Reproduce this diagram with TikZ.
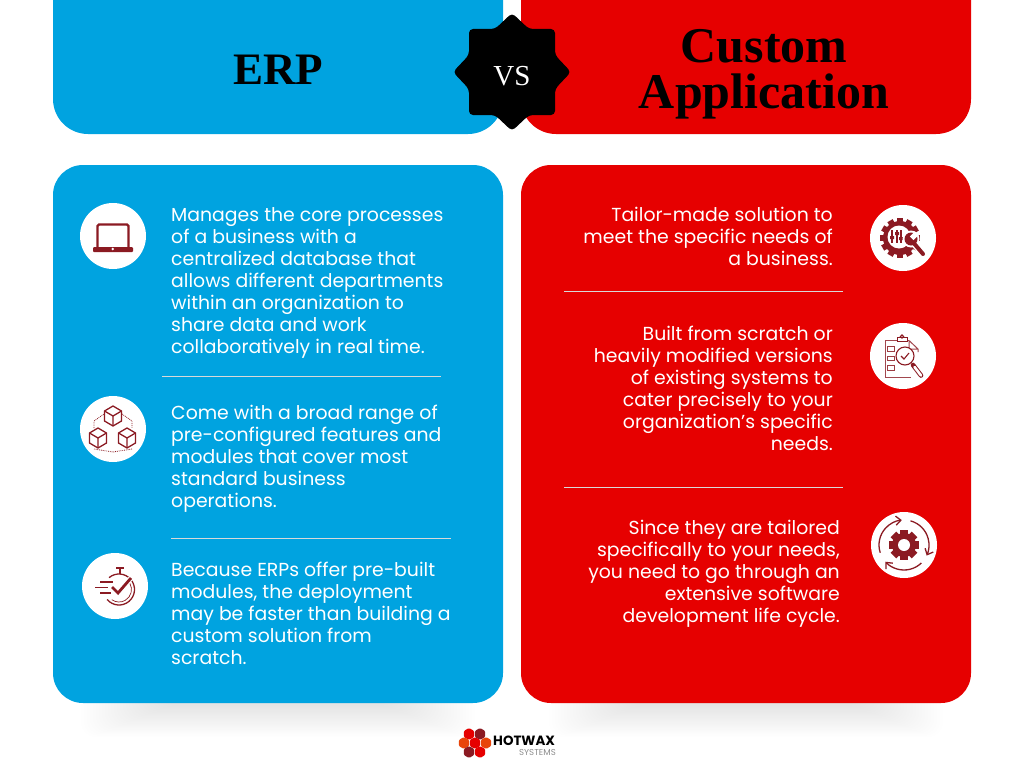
\documentclass[tikz,border=0pt]{standalone}
\usepackage{fontspec}
\usetikzlibrary{arrows.meta}
\setmainfont{Poppins}
\newfontfamily\headfont{Liberation Serif}
\definecolor{erpblue}{RGB}{0,163,224}
\definecolor{customred}{RGB}{230,0,0}
\definecolor{icondark}{RGB}{139,26,34}
\definecolor{hexorange}{RGB}{232,69,10}
\tikzset{
	bodyleft/.style={anchor=north west,align=left,text=white,inner sep=0pt,font=\fontsize{18.85}{22}\selectfont},
	bodyright/.style={anchor=north east,align=right,text=white,inner sep=0pt,font=\fontsize{18.85}{22}\selectfont},
	headtext/.style={align=center,text=black,inner sep=0pt,font=\headfont\bfseries\fontsize{50}{46}\selectfont},
	sepline/.style={draw=white!85!black,line width=0.9pt},
	iconline/.style={draw=icondark,line width=1.3pt},
	cyclearrow/.style={draw=icondark,line width=1.3pt,-{Straight Barb[length=5pt,width=9pt]}},
	icondisc/.style={fill=white},
	cubeicon/.pic={
		\draw[iconline,line join=round](0,-10)--(8.5,-5)--(8.5,5)--(0,10)--(-8.5,5)--(-8.5,-5)--cycle;
		\draw[iconline,line join=round](-8.5,-5)--(0,0)--(8.5,-5) (0,0)--(0,10);
	},
	hexicon/.pic={
		\fill[pic actions,rounded corners=1.2pt](5.2,-3)--(0,-6)--(-5.2,-3)--(-5.2,3)--(0,6)--(5.2,3)--cycle;
	}
}
\begin{document}
\begin{tikzpicture}[x=1pt,y=-1pt]
	\useasboundingbox(0,0) rectangle (1024,768);
	\fill[white](0,0) rectangle (1024,768);
	% shadows under the panels
	\foreach \i in {1,...,30}{
		\fill[black,opacity=0.0055,rounded corners=14]({78+\i*3},680) rectangle ({478-\i*3},{738-\i*1.2});
		\fill[black,opacity=0.0055,rounded corners=14]({546+\i*3},680) rectangle ({946-\i*3},{738-\i*1.2});
	}
	% header panels
	\begin{scope}
		\clip(0,0) rectangle (1024,768);
		\fill[erpblue,rounded corners=35](53,-60) rectangle (503,134);
		\fill[customred,rounded corners=35](521,-60) rectangle (971,134);
	\end{scope}
	% body panels
	\fill[erpblue,rounded corners=30](53,165) rectangle (503,703);
	\fill[customred,rounded corners=30](521,165) rectangle (971,703);
	% badge
	\fill[black,rounded corners=4pt](512,13)--(529,29)--(555,29)--(555,55)--(571,72)--(555,89)--(555,115)--(529,115)--(512,131)--(495,115)--(469,115)--(469,89)--(453,72)--(469,55)--(469,29)--(495,29)--cycle;
	\node[text=white,inner sep=0pt,font=\headfont\fontsize{29}{29}\selectfont](vslabel) at (512,76) {VS};
	% headings
	\node[headtext,font=\headfont\bfseries\fontsize{45}{46}\selectfont](erphead) at (278,69.5) {ERP};
	\node[headtext](customhead) at (764,74) {Custom\\Application};
	% left column
	\node[bodyleft](erpone) at (171,207.5) {Manages the core processes\\of a business with a\\centralized database that\\allows different departments\\within an organization to\\share data and work\\collaboratively in real time.};
	\node[bodyleft](erptwo) at (171,405) {Come with a broad range of\\pre-configured features and\\modules that cover most\\standard business\\operations.};
	\node[bodyleft](erpthree) at (171,562) {Because ERPs offer pre-built\\modules, the deployment\\may be faster than building a\\custom solution from\\scratch.};
	\draw[sepline](162,376.5)--(441,376.5);
	\draw[sepline](171,538)--(451,538);
	% right column
	\node[bodyright](customone) at (833,206.5) {Tailor-made solution to\\meet the specific needs of\\a business.};
	\node[bodyright](customtwo) at (833,326) {Built from scratch or\\heavily modified versions\\of existing systems to\\cater precisely to your\\organization’s specific\\needs.};
	\node[bodyright](customthree) at (840,520) {Since they are tailored\\specifically to your needs,\\you need to go through an\\extensive software\\development life cycle.};
	\draw[sepline](564,291.5)--(843,291.5);
	\draw[sepline](564,487.5)--(843,487.5);
	% discs
	\fill[icondisc](113,236) circle(33);
	\fill[icondisc](113,429) circle(33);
	\fill[icondisc](115,586) circle(33);
	\fill[icondisc](903,238) circle(33);
	\fill[icondisc](903,356) circle(33);
	\fill[icondisc](904,545) circle(33);
	% laptop
	\draw[draw=icondark,line width=2.4pt,rounded corners=1.5pt](97.5,247)--(97.5,224.5)--(128.5,224.5)--(128.5,247);
	\fill[icondark,rounded corners=1pt](93,247) rectangle (133,252);
	\fill[white](112.8,249) circle(1.4);
	% cubes
	\draw[icondark,line width=0.8pt,densely dotted](94,428)--(94,421)--(104,414) (122,414)--(132,421)--(132,428) (132,449)--(113,452)--(94,449);
	\path(113,416) pic{cubeicon};
	\path(98,438) pic{cubeicon};
	\path(127,438) pic{cubeicon};
	% stopwatch
	\draw[iconline](119,589.5)++(-130:15.5) arc (-130:140:15.5);
	\draw[icondark,line width=0.7pt](119,589.5)++(-30:12.5) arc (-30:125:12.5);
	\draw[iconline](120,574)--(120,568) (116,568)--(124,568);
	\draw[iconline](100,582)--(113,582) (95,587.5)--(108,587.5) (100,593)--(111,593);
	\draw[white,line width=5pt](112,587)--(118,593)--(131,578);
	\draw[icondark,line width=2.8pt,line join=miter](112,587)--(118,593)--(131,578);
	% gear and wrench
	\foreach \a in {0,30,...,330}{
		\fill[icondark,rotate around={\a:(900,238)}](897,218) rectangle (903,226);
	}
	\fill[icondark](900,238) circle(17);
	\fill[white](899,237) circle(11.5);
	\draw[icondark,line width=1.1pt](892,230)--(892,243) (897,230)--(897,243) (901,230)--(901,243);
	\fill[icondark](890,236) rectangle (894,239) (895,232) rectangle (899,235) (899,237) rectangle (903,240);
	\draw[white,line width=7pt,line cap=round](912,241)--(923,254);
	\fill[white](911,239) circle(8.5);
	\draw[icondark,line width=4pt,line cap=round](912,241)--(923,254);
	\fill[icondark](911,239) circle(6.5);
	\fill[white,rotate around={-45:(911,239)}](908.5,231) rectangle (913.5,238);
	% clipboard
	\draw[icondark,line width=1pt,opacity=0.8](909,340.5)--(885,340.5)--(885,377.5)--(911,377.5);
	\draw[icondark,line width=1pt,opacity=0.8](909,340.5)--(918,349)--(918,352) (909,340.5)--(909,349)--(918,349);
	\draw[icondark,line width=1pt,fill=white](897,337.5) rectangle (907,341);
	\draw[icondark,line width=1pt](902,336.5) circle(1.6);
	\draw[icondark,line width=0.9pt,opacity=0.85](887.5,346) rectangle (894,351) (887.5,356) rectangle (894,360.5) (887.5,365) rectangle (894,370);
	\draw[icondark,line width=1.1pt,fill=white](905,356) circle(9);
	\draw[icondark,line width=1.1pt](901,356)--(904,359)--(909,353);
	\draw[icondark,line width=4.6pt,line cap=round](913,365)--(921,375.5);
	\draw[white,line width=2.6pt,line cap=round](914.5,367)--(921,375.5);
	% cycle gear
	\foreach \a in {0,45,...,315}{
		\fill[icondark,rotate around={\a:(904,545)}](900,530) rectangle (908,538);
	}
	\fill[icondark](904,545) circle(12);
	\fill[white](904,545) circle(6);
	\draw[cyclearrow](904,545)++(162:25) arc (162:265:25);
	\draw[cyclearrow](904,545)++(-75:25) arc (-75:25:25);
	\draw[cyclearrow](904,545)++(46:25) arc (46:138:25);
	% logo
	\path(469,734) pic[fill=customred]{hexicon};
	\path(480,734) pic[fill=icondark]{hexicon};
	\path(464,743) pic[fill=hexorange]{hexicon};
	\path(475,743) pic[fill=customred]{hexicon};
	\path(486,743) pic[fill=hexorange]{hexicon};
	\path(469,752) pic[fill=icondark]{hexicon};
	\path(480,752) pic[fill=customred]{hexicon};
	\node[anchor=west,inner sep=0pt,text=black,font=\bfseries\fontsize{13.4}{13.4}\selectfont](logoname) at (493,741) {HOTWAX};
	\node[anchor=east,inner sep=0pt,text=black!45,font=\fontsize{8.6}{8.6}\selectfont](logosub) at (556,752.5) {SYSTEMS};
\end{tikzpicture}
\end{document}
